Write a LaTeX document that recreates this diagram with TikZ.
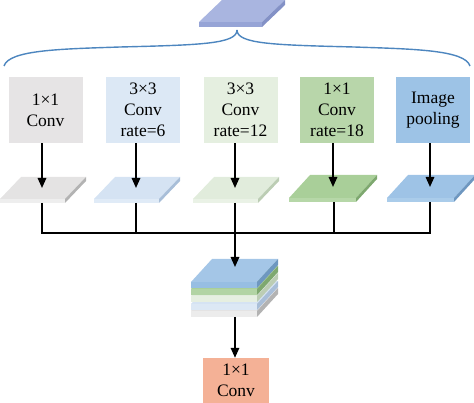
\documentclass[tikz,border=0pt]{standalone}
\usepackage{fontspec}
\setmainfont{Liberation Serif}
\usetikzlibrary{arrows.meta,calc}
\definecolor{braceblue}{HTML}{4D86BF}
\definecolor{c1}{HTML}{E6E4E5}
\definecolor{c2}{HTML}{DCE8F5}
\definecolor{c3}{HTML}{E5EFE0}
\definecolor{c4}{HTML}{B8D6AA}
\definecolor{c5}{HTML}{9DC3E6}
\definecolor{salmon}{HTML}{F4B196}
% slab: x0, y-bottom, width, thickness, dx, dy, top, front, side (hex)
\newcommand\slabshape[9]{%
  \definecolor{slabT}{HTML}{#7}%
  \definecolor{slabF}{HTML}{#8}%
  \definecolor{slabS}{HTML}{#9}%
  \fill[slabF] (#1,{#2-#4}) rectangle ({#1+#3},#2);
  \fill[slabT] (#1,{#2-#4}) -- ({#1+#3},{#2-#4}) -- ({#1+#3+#5},{#2-#4-#6}) -- ({#1+#5},{#2-#4-#6}) -- cycle;
  \fill[slabS] ({#1+#3},#2) -- ({#1+#3},{#2-#4}) -- ({#1+#3+#5},{#2-#4-#6}) -- ({#1+#3+#5},{#2-#6}) -- cycle;
}
\begin{document}
\begin{tikzpicture}[x=1pt,y=-1pt,
  box/.style={minimum width=74pt,minimum height=66pt,inner sep=0pt,align=center,
    font=\fontsize{17.5}{21}\selectfont},
  arr/.style={line width=1.6pt,-{Triangle[length=10pt,width=8.5pt]}},
  ln/.style={line width=1.6pt}]
\useasboundingbox (0,0) rectangle (474,403);
% top slab
\slabshape{199}{27}{63}{5}{23}{22}{A9B5E0}{96A4D6}{8391C6}
\coordinate (tip) at (237,30);
% brace
\draw[braceblue,line width=1.4pt] (4,66) .. controls (9,50) and (60,49) .. (120,47)
  .. controls (200,45) and (237,44) .. (tip);
\draw[braceblue,line width=1.4pt] (470,66) .. controls (465,50) and (414,49) .. (354,47)
  .. controls (274,45) and (237,44) .. (tip);
% boxes
\node[box,fill=c1] (b1) at (45.5,110) {1×1\\Conv};
\node[box,fill=c2] (b2) at (143,110) {3×3\\Conv\\rate=6};
\node[box,fill=c3] (b3) at (240.5,110) {3×3\\Conv\\rate=12};
\node[box,fill=c4] (b4) at (337,110) {1×1\\Conv\\rate=18};
\node[box,fill=c5] (b5) at (433,110) {Image\\pooling};
% slabs
\slabshape{0}{203}{65}{4}{21}{22}{E4E3E3}{EEEEEE}{B3B3B3}
\slabshape{94}{203}{65}{4}{21}{22}{D5E3F3}{E0EBF7}{A8BED8}
\slabshape{193}{203}{65}{4}{21}{22}{E1ECDC}{EAF2E6}{BCCDB4}
\slabshape{289}{202}{67}{4}{21}{23}{A9CF99}{B6D7A8}{7EA86F}
\slabshape{387}{202}{67}{4}{21}{23}{9EC3E6}{AACCEA}{6E97C0}
% stacked slabs
\slabshape{191}{317}{66}{6}{21}{23}{E4E3E3}{ECECEC}{B3B3B3}
\slabshape{191}{310}{66}{6}{21}{23}{D5E3F3}{DCE8F5}{A8BED8}
\slabshape{191}{302}{66}{6}{21}{23}{E1ECDC}{E6EFE1}{BCCDB4}
\slabshape{191}{295}{66}{6}{21}{23}{A9CF99}{B2D4A4}{7EA86F}
\slabshape{191}{288}{66}{6}{21}{23}{A4C6E7}{97BEE3}{6E97C0}
% output box
\node[box,fill=salmon,minimum width=66pt,minimum height=45pt] (out) at (236,380.5) {1×1\\Conv};
% coordinates
\coordinate (a1) at (42,188);
\coordinate (a2) at (136,188);
\coordinate (a3) at (235,188);
\coordinate (a4) at (333,187);
\coordinate (a5) at (430,187);
\coordinate (s1b) at (42,203);
\coordinate (s2b) at (136,203);
\coordinate (s3b) at (235,203);
\coordinate (s4b) at (334,202);
\coordinate (s5b) at (430,202);
\coordinate (bus) at (235,233);
\coordinate (stk) at (235,267);
\coordinate (stkb) at (235,317);
% arrows
\foreach \i in {1,...,5} {\draw[arr] (b\i.south -| a\i) -- (a\i);}
\draw[ln] (s1b) -- (s1b |- bus) -- (s5b |- bus) -- (s5b);
\draw[ln] (s2b) -- (s2b |- bus);
\draw[ln] (s4b) -- (s4b |- bus);
\draw[arr] (s3b) -- (stk);
\draw[arr] (stkb) -- (out.north -| stkb);
\end{tikzpicture}
\end{document}
